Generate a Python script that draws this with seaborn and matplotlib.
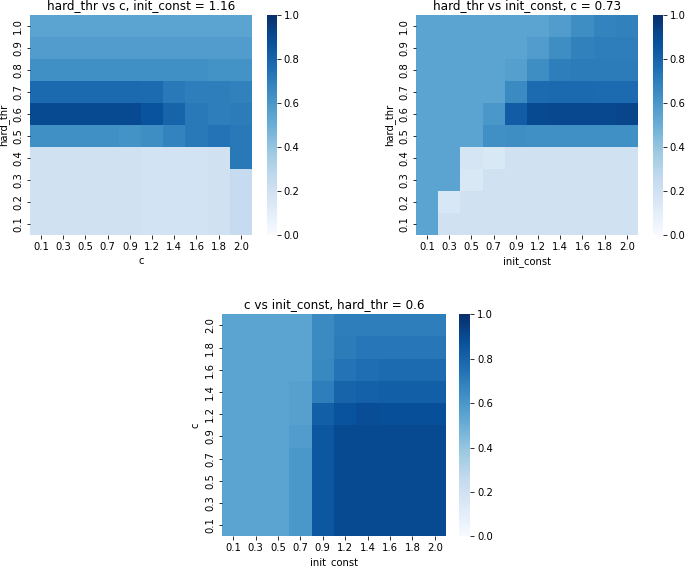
import numpy as np
import pandas as pd
import seaborn as sns
import matplotlib
matplotlib.use('Agg')
import matplotlib.pyplot as plt


# Tick labels (values of linspace rounded to one decimal)
c_labels = ['0.1', '0.3', '0.5', '0.7', '0.9', '1.2', '1.4', '1.6', '1.8', '2.0']
init_labels = ['0.1', '0.3', '0.5', '0.7', '0.9', '1.2', '1.4', '1.6', '1.8', '2.0']
thr_labels = ['0.1', '0.2', '0.3', '0.4', '0.5', '0.6', '0.7', '0.8', '0.9', '1.0']

# hard_thr vs c, init_const = 1.16 (rows: hard_thr 0.1 -> 1.0)
thr_c = [
    [0.20, 0.20, 0.20, 0.20, 0.20, 0.19, 0.19, 0.19, 0.20, 0.25],
    [0.20, 0.20, 0.20, 0.20, 0.20, 0.19, 0.19, 0.19, 0.20, 0.25],
    [0.20, 0.20, 0.20, 0.20, 0.20, 0.19, 0.19, 0.19, 0.20, 0.25],
    [0.20, 0.20, 0.20, 0.20, 0.20, 0.19, 0.19, 0.19, 0.20, 0.72],
    [0.63, 0.63, 0.63, 0.63, 0.62, 0.64, 0.68, 0.72, 0.74, 0.72],
    [0.90, 0.90, 0.90, 0.90, 0.90, 0.87, 0.80, 0.72, 0.70, 0.71],
    [0.78, 0.78, 0.78, 0.78, 0.78, 0.77, 0.72, 0.70, 0.70, 0.69],
    [0.63, 0.63, 0.63, 0.63, 0.63, 0.63, 0.63, 0.63, 0.62, 0.62],
    [0.58, 0.58, 0.58, 0.58, 0.58, 0.58, 0.58, 0.58, 0.58, 0.58],
    [0.55, 0.55, 0.55, 0.55, 0.55, 0.55, 0.55, 0.55, 0.55, 0.55],
]

# hard_thr vs init_const, c = 0.73 (rows: hard_thr 0.1 -> 1.0)
thr_init = [
    [0.55, 0.20, 0.20, 0.20, 0.20, 0.20, 0.20, 0.20, 0.20, 0.20],
    [0.55, 0.16, 0.20, 0.20, 0.20, 0.20, 0.20, 0.20, 0.20, 0.20],
    [0.55, 0.55, 0.15, 0.20, 0.20, 0.20, 0.20, 0.20, 0.20, 0.20],
    [0.55, 0.55, 0.17, 0.15, 0.20, 0.20, 0.20, 0.20, 0.20, 0.20],
    [0.55, 0.55, 0.55, 0.63, 0.64, 0.63, 0.63, 0.63, 0.63, 0.63],
    [0.55, 0.55, 0.55, 0.60, 0.83, 0.90, 0.91, 0.91, 0.91, 0.92],
    [0.55, 0.55, 0.55, 0.55, 0.65, 0.77, 0.78, 0.78, 0.77, 0.77],
    [0.55, 0.55, 0.55, 0.55, 0.57, 0.64, 0.70, 0.71, 0.71, 0.71],
    [0.55, 0.55, 0.55, 0.55, 0.55, 0.58, 0.64, 0.69, 0.70, 0.70],
    [0.55, 0.55, 0.55, 0.55, 0.55, 0.55, 0.58, 0.64, 0.68, 0.69],
]

# c vs init_const, hard_thr = 0.6 (rows: c 0.1 -> 2.0)
c_init = [
    [0.55, 0.55, 0.55, 0.60, 0.85, 0.90, 0.90, 0.90, 0.90, 0.90],
    [0.55, 0.55, 0.55, 0.60, 0.85, 0.90, 0.90, 0.90, 0.90, 0.90],
    [0.55, 0.55, 0.55, 0.60, 0.85, 0.90, 0.90, 0.90, 0.90, 0.90],
    [0.55, 0.55, 0.55, 0.60, 0.85, 0.90, 0.90, 0.90, 0.90, 0.90],
    [0.55, 0.55, 0.55, 0.58, 0.85, 0.90, 0.90, 0.90, 0.90, 0.90],
    [0.55, 0.55, 0.55, 0.56, 0.82, 0.87, 0.89, 0.88, 0.88, 0.88],
    [0.55, 0.55, 0.55, 0.56, 0.70, 0.80, 0.81, 0.82, 0.82, 0.82],
    [0.55, 0.55, 0.55, 0.55, 0.66, 0.74, 0.76, 0.77, 0.77, 0.77],
    [0.55, 0.55, 0.55, 0.55, 0.65, 0.71, 0.73, 0.73, 0.73, 0.73],
    [0.55, 0.55, 0.55, 0.55, 0.65, 0.70, 0.70, 0.70, 0.70, 0.70],
]

# drawn at 72 dpi so that the default font and tick sizes come out as in the original
fig = plt.figure(figsize=(685 / 72, 567 / 72), dpi=72)

panels = [
    (thr_c, c_labels, thr_labels, 'c', 'hard_thr', 'hard_thr vs c, init_const = 1.16',
     [0.0438, 0.5855, 0.324, 0.388], [0.3898, 0.5855, 0.014, 0.388]),
    (thr_init, init_labels, thr_labels, 'init_const', 'hard_thr', 'hard_thr vs init_const, c = 0.73',
     [0.6073, 0.5855, 0.324, 0.388], [0.953, 0.5855, 0.0146, 0.388]),
    (c_init, init_labels, c_labels, 'init_const', 'c', 'c vs init_const, hard_thr = 0.6',
     [0.324, 0.0538, 0.327, 0.392], [0.670, 0.0538, 0.016, 0.392]),
]

for data, xl, yl, xname, yname, title, pos, cpos in panels:
    ax = fig.add_axes(pos)
    cax = fig.add_axes(cpos)
    df = pd.DataFrame(np.array(data), index=yl, columns=xl)
    sns.heatmap(df, ax=ax, cbar_ax=cax, cmap='Blues', vmin=0, vmax=1)
    ax.invert_yaxis()
    ax.set_xlabel(xname)
    ax.set_ylabel(yname)
    ax.set_title(title)
    plt.setp(ax.get_yticklabels(), rotation=90, va='center')
    plt.setp(ax.get_xticklabels(), rotation=0)

fig.savefig('out.png', dpi=72)
